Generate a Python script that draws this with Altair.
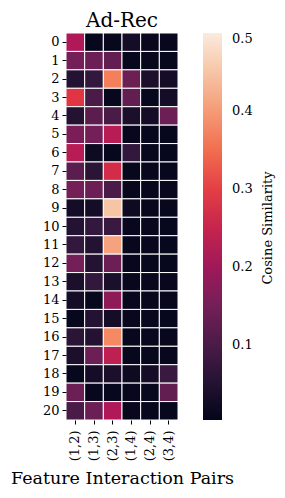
import altair as alt
import pandas as pd

# Feature interaction pairs (columns) and layers (rows)
pairs = ["(1,2)", "(1,3)", "(2,3)", "(1,4)", "(2,4)", "(3,4)"]
rows = list(range(21))

# Cosine similarity per pair, rows 0..20
s12 = [0.22, 0.15, 0.05, 0.29, 0.05, 0.16, 0.23, 0.12, 0.15, 0.03, 0.05,
       0.07, 0.15, 0.04, 0.03, 0.01, 0.06, 0.04, 0.01, 0.14, 0.10]
s13 = [0.01, 0.14, 0.07, 0.10, 0.12, 0.15, 0.02, 0.06, 0.14, 0.03, 0.07,
       0.05, 0.05, 0.07, 0.01, 0.05, 0.05, 0.14, 0.03, 0.01, 0.14]
s23 = [0.01, 0.13, 0.37, 0.01, 0.10, 0.23, 0.01, 0.27, 0.10, 0.45, 0.08,
       0.41, 0.14, 0.04, 0.18, 0.03, 0.38, 0.24, 0.04, 0.01, 0.22]
s14 = [0.03, 0.01, 0.14, 0.13, 0.04, 0.01, 0.07, 0.01, 0.01, 0.02, 0.01,
       0.01, 0.01, 0.01, 0.01, 0.01, 0.01, 0.01, 0.02, 0.01, 0.01]
s24 = [0.01, 0.01, 0.04, 0.01, 0.03, 0.01, 0.01, 0.01, 0.01, 0.01, 0.01,
       0.01, 0.01, 0.01, 0.01, 0.01, 0.01, 0.01, 0.03, 0.01, 0.01]
s34 = [0.01, 0.01, 0.03, 0.03, 0.14, 0.01, 0.01, 0.01, 0.01, 0.01, 0.01,
       0.01, 0.01, 0.01, 0.01, 0.01, 0.01, 0.01, 0.08, 0.13, 0.01]

legend_title = ["Cosine Similarity"]

series = [s12, s13, s23, s14, s24, s34]
records = []
for p, vals in zip(pairs, series):
    for r, v in zip(rows, vals):
        records.append({"pair": p, "layer": r, "sim": v})
df = pd.DataFrame(records)

# rocket colormap stops
vmin, vmax = 0.004, 0.5
rocket = ["#03051A", "#35193E", "#701F57", "#AD1759", "#E13342",
          "#F37651", "#F6B48F", "#FAEBDD"]
ts = [0, 1/7, 2/7, 3/7, 4/7, 5/7, 6/7, 1]
dom = [vmin + t * (vmax - vmin) for t in ts]

font = "DejaVu Serif"

heat = alt.Chart(df).mark_rect(stroke="white", strokeWidth=1).encode(
    x=alt.X("pair:N", sort=pairs,
            scale=alt.Scale(paddingInner=0, paddingOuter=0),
            axis=alt.Axis(title="Feature Interaction Pairs", labelAngle=270,
                          labelFont=font, labelFontSize=13, labelColor="black",
                          titleFont=font, titleFontSize=17.5, titleFontWeight="normal",
                          titleColor="black", titleX=56, titleY=63,
                          titleBaseline="alphabetic", titleAlign="center",
                          domain=False, tickSize=4, tickColor="black",
                          labelPadding=6)),
    y=alt.Y("layer:O", sort=rows,
            scale=alt.Scale(paddingInner=0, paddingOuter=0),
            axis=alt.Axis(title=None, labelFont=font, labelFontSize=13,
                          labelColor="black", domain=False, tickSize=4,
                          tickColor="black", labelPadding=3)),
    color=alt.Color("sim:Q",
                    scale=alt.Scale(domain=dom, range=rocket, interpolate="rgb"),
                    legend=alt.Legend(title=None,
                                      values=[0.1, 0.2, 0.3, 0.4, 0.5],
                                      format=".1f",
                                      gradientLength=387, gradientThickness=19,
                                      gradientStrokeWidth=0,
                                      labelFont=font, labelFontSize=13,
                                      labelColor="black", labelOffset=10,
                                      offset=25, padding=0)),
)

ltitle = alt.Chart(pd.DataFrame({"t": legend_title})).mark_text(
    angle=270, font=font, fontSize=13, color="black",
    align="center", baseline="middle"
).encode(text="t:N", x=alt.value(202), y=alt.value(195))

chart = alt.layer(heat, ltitle).properties(
    width=112, height=387,
    title=alt.TitleParams("Ad-Rec", font=font, fontSize=20, fontWeight="normal",
                          color="black", anchor="middle", offset=2),
    autosize=alt.AutoSizeParams(type="none"),
    padding={"left": 66, "top": 33, "right": 107, "bottom": 78},
).configure_view(stroke=None)

chart.save("out.html", embed_options={"renderer": "svg", "actions": False})
